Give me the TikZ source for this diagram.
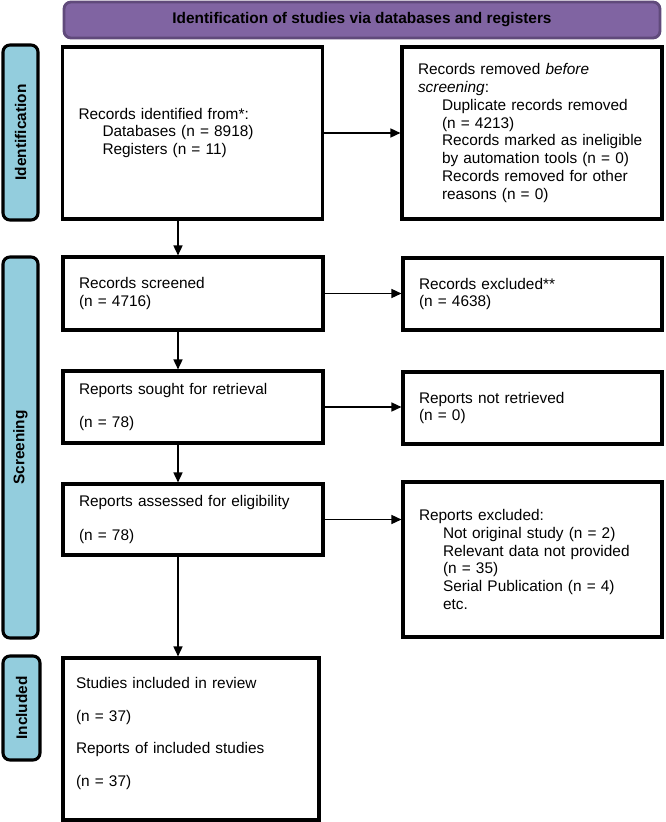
\documentclass[tikz,border=0pt]{standalone}
\usepackage{fontspec}
\setmainfont{Liberation Sans}
\usetikzlibrary{arrows.meta}
\definecolor{hdrfill}{RGB}{128,100,162}
\definecolor{hdrline}{RGB}{96,74,123}
\definecolor{sidefill}{RGB}{147,205,221}
\newcommand{\ind}{\hspace*{24pt}}
\begin{document}
\begin{tikzpicture}[x=1pt,y=-1pt,
  txt/.style={font=\fontsize{15.4}{17.8}\selectfont},
  flowbox/.style={draw=black, line width=3.1pt, rectangle, align=left,
    inner xsep=16pt, inner ysep=0pt, txt, text width=#1},
  sidelab/.style={draw=black, line width=3.1pt, rounded corners=7pt, fill=sidefill,
    rotate=90, inner sep=0pt, font=\fontsize{15.4}{17.8}\selectfont\bfseries},
  hdr/.style={draw=hdrline, line width=2.8pt, rounded corners=7pt, fill=hdrfill,
    inner sep=0pt, font=\fontsize{15.4}{17.8}\selectfont\bfseries},
  arr/.style={line width=1.5pt, -{Triangle[length=10pt,width=9pt]}}
]
\useasboundingbox (0,0) rectangle (665,822);

% header
\node[hdr, minimum width=596pt, minimum height=36pt] (head) at (362,20)
  {Identification of studies via databases and registers};

% side labels
\node[sidelab, minimum width=175pt, minimum height=35pt] (lid) at (20.5,132.5) {Identification};
\node[sidelab, minimum width=381pt, minimum height=35pt] (lscr) at (20.5,447.5) {Screening};
\node[sidelab, minimum width=104pt, minimum height=37pt] (linc) at (21.5,708) {Included};

% left column
\node[flowbox=228pt, minimum width=260pt, minimum height=172pt] (recid) at (192.5,133)
  {Records identified from*:\\
   \ind Databases (n = 8918)\\
   \ind Registers (n = 11)};
\node[flowbox=228pt, minimum width=260pt, minimum height=73pt] (screened) at (193,293.5)
  {Records screened\\(n = 4716)};
\node[flowbox=228pt, minimum width=260pt, minimum height=72pt] (sought) at (193,407)
  {Reports sought for retrieval\\[16pt](n = 78)};
\node[flowbox=228pt, minimum width=260pt, minimum height=71pt] (assessed) at (193,519.5)
  {Reports assessed for eligibility\\[16pt](n = 78)};
\node[flowbox=230pt, inner xsep=13pt, minimum width=256pt, minimum height=162pt] (incl) at (191,739)
  {Studies included in review\\[15.5pt](n = 37)\\[14pt]Reports of included studies\\[15.5pt](n = 37)\\[-4pt]\mbox{}};

% right column
\node[flowbox=228pt, minimum width=260pt, minimum height=172pt] (removed) at (532,133)
  {Records removed \textit{before}\\
   \textit{screening}:\\
   \ind Duplicate records removed\\
   \ind (n = 4213)\\
   \ind Records marked as ineligible\\
   \ind by automation tools (n = 0)\\
   \ind Records removed for other\\
   \ind reasons (n = 0)};
\node[flowbox=227pt, minimum width=259pt, minimum height=72pt] (excl) at (532.5,294)
  {Records excluded**\\(n = 4638)};
\node[flowbox=227pt, minimum width=259pt, minimum height=72pt] (notret) at (532.5,408)
  {Reports not retrieved\\(n = 0)};
\node[flowbox=227pt, minimum width=259pt, minimum height=155pt] (repexcl) at (532.5,559.5)
  {Reports excluded:\\
   \ind Not original study (n = 2)\\
   \ind Relevant data not provided\\
   \ind (n = 35)\\
   \ind Serial Publication (n = 4)\\
   \ind etc.};

% connectors
\coordinate (ax) at (178,0);
\draw[arr] (recid.east) -- (recid.east -| removed.west);
\draw[arr] (screened.east) -- (screened.east -| excl.west);
\draw[arr] (sought.east) -- (sought.east -| notret.west);
\draw[arr] (assessed.east) -- (assessed.east -| repexcl.west);
\draw[arr] (recid.south -| ax) -- (screened.north -| ax);
\draw[arr] (screened.south -| ax) -- (sought.north -| ax);
\draw[arr] (sought.south -| ax) -- (assessed.north -| ax);
\draw[arr] (assessed.south -| ax) -- (incl.north -| ax);
\end{tikzpicture}
\end{document}
